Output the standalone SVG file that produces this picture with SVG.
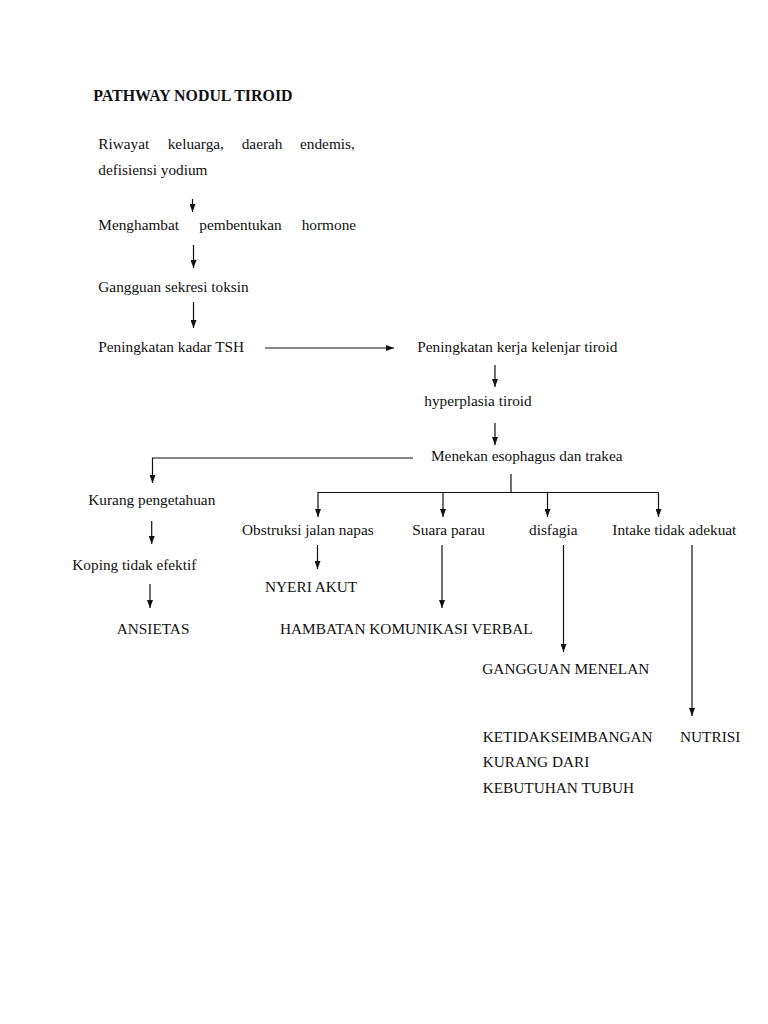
<svg xmlns="http://www.w3.org/2000/svg" width="768" height="1024" viewBox="0 0 768 1024">
<style>
text{font-family:"Liberation Serif","Times New Roman",serif;font-size:15.3px;fill:#111}
.t{font-weight:bold;font-size:15.9px}
.c line,.c polyline{stroke:#111;stroke-width:1.2;fill:none}
.a{marker-end:url(#ah)}
</style>
<defs>
<marker id="ah" viewBox="0 0 8 6" refX="8" refY="3" markerWidth="8" markerHeight="6" orient="auto" markerUnits="userSpaceOnUse">
<path d="M0,0 L8,3 L0,6 z" fill="#111"/>
</marker>
</defs>
<rect width="768" height="1024" fill="#fff"/>
<text class="t" x="93.3" y="100.7">PATHWAY NODUL TIROID</text>
<g id="n1"><text y="148.5"><tspan x="98.3">Riwayat</tspan><tspan x="167.7">keluarga,</tspan><tspan x="241.7">daerah</tspan><tspan x="300">endemis,</tspan></text>
<text x="98.3" y="174.5">defisiensi yodium</text></g>
<g id="n2"><text y="230"><tspan x="98.3">Menghambat</tspan><tspan x="199.3">pembentukan</tspan><tspan x="301.7">hormone</tspan></text></g>
<g id="n3"><text x="98.3" y="291.5">Gangguan sekresi toksin</text></g>
<g id="n4"><text x="98.3" y="351.7">Peningkatan kadar TSH</text></g>
<g id="n5"><text x="417.3" y="351.7">Peningkatan kerja kelenjar tiroid</text></g>
<g id="n6"><text x="424.3" y="405.5">hyperplasia tiroid</text></g>
<g id="n7"><text x="431" y="460.5">Menekan esophagus dan trakea</text></g>
<g id="n8"><text x="88.3" y="505">Kurang pengetahuan</text></g>
<g id="n9"><text x="242" y="534.5">Obstruksi jalan napas</text></g>
<g id="n10"><text x="412.3" y="534.5">Suara parau</text></g>
<g id="n11"><text x="529" y="534.5">disfagia</text></g>
<g id="n12"><text x="612.3" y="534.5">Intake tidak adekuat</text></g>
<g id="n13"><text x="72.3" y="570">Koping tidak efektif</text></g>
<g id="n14"><text x="265" y="592">NYERI AKUT</text></g>
<g id="n15"><text x="116.7" y="634">ANSIETAS</text></g>
<g id="n16"><text x="280" y="634.3">HAMBATAN KOMUNIKASI VERBAL</text></g>
<g id="n17"><text x="482.3" y="674">GANGGUAN MENELAN</text></g>
<g id="n18"><text y="741.5"><tspan x="482.7">KETIDAKSEIMBANGAN</tspan><tspan x="680">NUTRISI</tspan></text>
<text x="482.7" y="766.5">KURANG DARI</text>
<text x="482.7" y="792.5">KEBUTUHAN TUBUH</text></g>
<g id="connectors" class="c">
<line class="a" x1="192.5" y1="199" x2="192.5" y2="212"/>
<line class="a" x1="193.5" y1="245" x2="193.5" y2="268"/>
<line class="a" x1="193.5" y1="302" x2="193.5" y2="328"/>
<line class="a" x1="265" y1="348" x2="394" y2="348"/>
<line class="a" x1="495" y1="365" x2="495" y2="387"/>
<line class="a" x1="495" y1="423" x2="495" y2="445"/>
<polyline class="a" points="413,458 152.5,458 152.5,483"/>
<line x1="511" y1="474" x2="511" y2="492.5"/>
<line x1="317.5" y1="492.5" x2="658.5" y2="492.5"/>
<line class="a" x1="318" y1="492.5" x2="318" y2="517"/>
<line class="a" x1="443" y1="492.5" x2="443" y2="517"/>
<line class="a" x1="547.5" y1="492.5" x2="547.5" y2="517"/>
<line class="a" x1="658.5" y1="492.5" x2="658.5" y2="517"/>
<line class="a" x1="151.7" y1="521" x2="151.7" y2="544"/>
<line class="a" x1="150" y1="584" x2="150" y2="608"/>
<line class="a" x1="317.5" y1="545" x2="317.5" y2="569"/>
<line class="a" x1="442" y1="545" x2="442" y2="608"/>
<line class="a" x1="563.5" y1="545" x2="563.5" y2="652"/>
<line class="a" x1="692" y1="545" x2="692" y2="716"/>
</g>
</svg>
